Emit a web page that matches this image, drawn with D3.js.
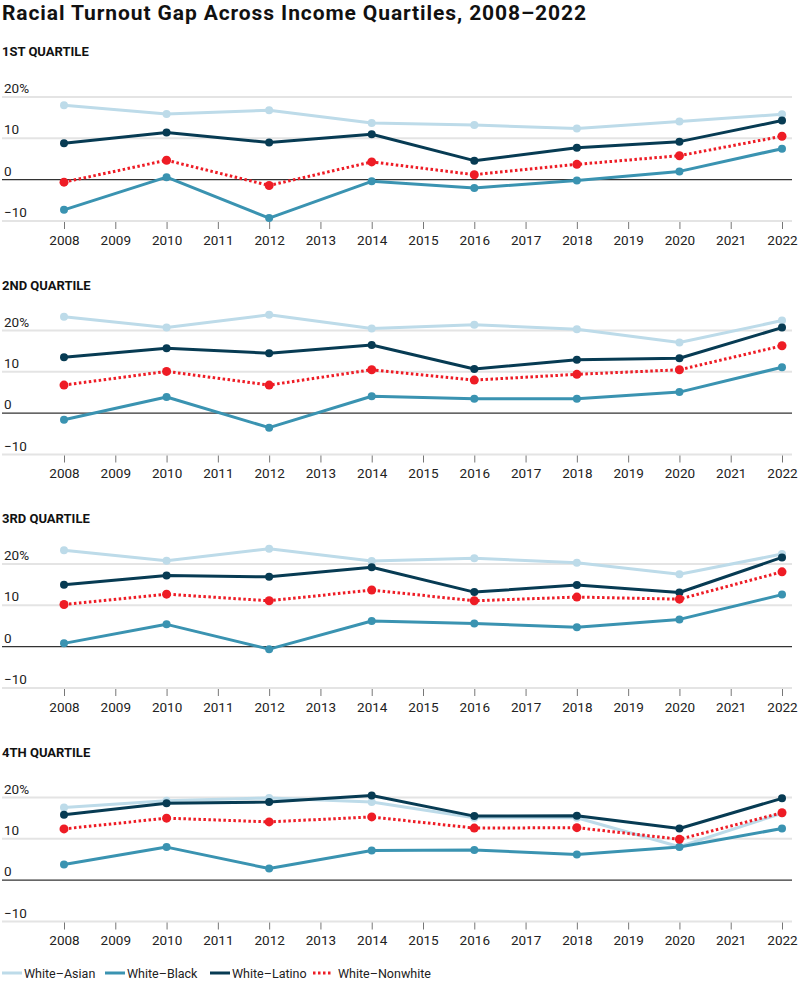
<!DOCTYPE html>
<html>
<head>
<meta charset="utf-8">
<script src="https://cdn.jsdelivr.net/npm/d3@7"></script>
<style>
  body { margin: 0; background: #fff; }
  svg { display: block; font-family: Roboto, "Noto Sans", sans-serif; }
  .title { font-size: 21px; font-weight: 700; fill: #111; }
  .panel-title { font-size: 13px; font-weight: 700; fill: #111; }
  .ylab { font-size: 13.5px; fill: #222; }
  .x-axis text { font-size: 13.5px; fill: #222; font-family: Roboto, "Noto Sans", sans-serif; }
  .x-axis line { stroke: #777; }
  .legend text { font-size: 12.5px; fill: #222; }
</style>
</head>
<body>
<svg id="chart"></svg>
<script>
// Data (turnout gap, percentage points)
const years = [2008, 2010, 2012, 2014, 2016, 2018, 2020, 2022];
const tickYears = [2008, 2009, 2010, 2011, 2012, 2013, 2014, 2015, 2016, 2017, 2018, 2019, 2020, 2021, 2022];
const quartiles = ['1ST QUARTILE', '2ND QUARTILE', '3RD QUARTILE', '4TH QUARTILE'];
const yTicks = [-10, 0, 10, 20];

// one row per quartile
const whiteAsian = [
    [18.0, 15.9, 16.8, 13.7, 13.2, 12.4, 14.1, 15.8],
    [23.3, 20.7, 23.8, 20.5, 21.4, 20.3, 17.1, 22.4],
    [23.3, 20.8, 23.7, 20.7, 21.4, 20.3, 17.5, 22.4],
    [17.6, 19.2, 19.9, 18.9, 15.1, 15.1, 8.1, 16.2]
];
const whiteBlack = [
    [-7.3, 0.6, -9.3, -0.4, -2.0, -0.2, 2.0, 7.5],
    [-1.6, 3.9, -3.5, 4.1, 3.5, 3.5, 5.1, 11.1],
    [0.8, 5.4, -0.6, 6.2, 5.6, 4.7, 6.6, 12.6],
    [3.8, 8.0, 2.8, 7.2, 7.3, 6.2, 8.0, 12.5]
];
const whiteLatino = [
    [8.8, 11.4, 9.0, 11.0, 4.6, 7.7, 9.2, 14.3],
    [13.5, 15.7, 14.5, 16.5, 10.7, 12.9, 13.3, 20.7],
    [15.0, 17.2, 16.9, 19.2, 13.2, 14.9, 13.1, 21.6],
    [15.8, 18.6, 18.9, 20.5, 15.5, 15.6, 12.5, 19.8]
];
const whiteNonwhite = [
    [-0.6, 4.7, -1.4, 4.3, 1.2, 3.7, 5.8, 10.5],
    [6.8, 10.1, 6.8, 10.5, 8.0, 9.4, 10.5, 16.3],
    [10.2, 12.7, 11.1, 13.7, 11.1, 12.0, 11.5, 18.1],
    [12.4, 15.0, 14.1, 15.3, 12.6, 12.7, 9.9, 16.3]
];

const seriesNames = ['White\u2013Asian', 'White\u2013Black', 'White\u2013Latino', 'White\u2013Nonwhite'];
const seriesData = [whiteAsian, whiteBlack, whiteLatino, whiteNonwhite];
const seriesColors = ['#bddbe9', '#3a93b1', '#073b53', '#ee1c25'];

const width = 800, height = 982;
const panelStep = 233.5;

const svg = d3.select('#chart')
    .attr('width', width)
    .attr('height', height);

// title stretched a little to the reference's width
svg.append('text')
    .attr('class', 'title')
    .attr('x', 2)
    .attr('y', 20)
    .attr('textLength', 584)
    .attr('lengthAdjust', 'spacing')
    .text('Racial Turnout Gap Across Income Quartiles, 2008\u20132022');

const x = d3.scaleLinear()
    .domain([2008, 2022])
    .range([64, 782]);

quartiles.forEach((q, qi) => {
    const top = qi * panelStep;
    const g = svg.append('g').attr('transform', `translate(0,${top})`);

    const y = d3.scaleLinear()
        .domain([-10, 20])
        .range([221, 97]);

    g.append('text')
        .attr('class', 'panel-title')
        .attr('x', 2)
        .attr('y', 56)
        .text(q);

    // gridlines (the -10 line doubles as the x axis)
    g.selectAll('.grid')
        .data(yTicks.filter(d => d !== 0))
        .join('line')
            .attr('class', 'grid')
            .attr('x1', 2)
            .attr('x2', 792)
            .attr('y1', d => y(d))
            .attr('y2', d => y(d))
            .attr('stroke', '#e4e4e4')
            .attr('stroke-width', 2);

    g.append('line')
        .attr('x1', 2)
        .attr('x2', 792)
        .attr('y1', y(0))
        .attr('y2', y(0))
        .attr('stroke', '#333')
        .attr('stroke-width', 1.2);

    g.selectAll('.ylab')
        .data(yTicks)
        .join('text')
            .attr('class', 'ylab')
            .attr('x', 4)
            .attr('y', d => y(d) - 4)
            .text(d => d === 20 ? '20%' : (d < 0 ? '\u2212' + Math.abs(d) : d));

    const xAxis = d3.axisBottom(x)
        .tickValues(tickYears)
        .tickFormat(d3.format('d'))
        .tickSize(7)
        .tickPadding(6);

    g.append('g')
        .attr('class', 'x-axis')
        .attr('transform', `translate(0,${y(-10) + 1})`)
        .call(xAxis)
        .call(a => a.select('.domain').remove());

    const line = d3.line()
        .x((d, i) => x(years[i]))
        .y(d => y(d));

    seriesData.forEach((s, si) => {
        const vals = s[qi];
        const dotted = si === 3;
        g.append('path')
            .datum(vals)
            .attr('fill', 'none')
            .attr('stroke', seriesColors[si])
            .attr('stroke-width', 3)
            .attr('stroke-linejoin', 'round')
            .attr('stroke-dasharray', dotted ? '2.5,2.5' : null)
            .attr('d', line);

        g.selectAll(`.dot-${si}`)
            .data(vals)
            .join('circle')
                .attr('class', `dot-${si}`)
                .attr('cx', (d, i) => x(years[i]))
                .attr('cy', d => y(d))
                .attr('r', dotted ? 4.5 : 4)
                .attr('fill', seriesColors[si]);
    });
});

// legend
const legendX = [2, 105, 210, 313];
const legend = svg.append('g')
    .attr('class', 'legend')
    .attr('transform', 'translate(0,973)');

seriesNames.forEach((name, i) => {
    const lg = legend.append('g').attr('transform', `translate(${legendX[i]},0)`);
    lg.append('line')
        .attr('x1', 0)
        .attr('x2', 20)
        .attr('stroke', seriesColors[i])
        .attr('stroke-width', 3)
        .attr('stroke-dasharray', i === 3 ? '2.5,2.5' : null);
    lg.append('text')
        .attr('x', i === 3 ? 25 : 22)
        .attr('y', 5)
        .text(name);
});
</script>
</body>
</html>
